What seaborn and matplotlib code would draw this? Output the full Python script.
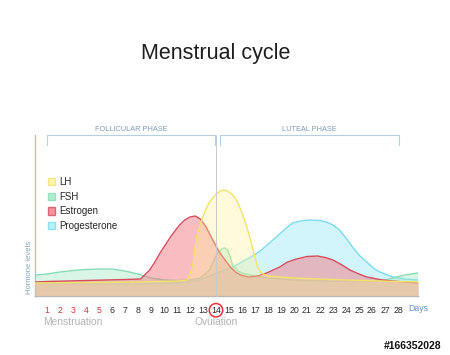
import pandas as pd
import matplotlib.pyplot as plt
import seaborn as sns
from matplotlib.patches import Patch

# Hormone curves (day of cycle -> level, arbitrary units)
lh_days = [0.08, 1, 4, 8, 11, 11.5, 11.8, 12.2, 12.5, 12.9, 13.2, 13.5, 14, 14.5, 14.9, 15.3, 15.7, 16, 16.3,
           16.6, 17, 17.2, 17.5, 18, 20, 24, 28, 29.54]
lh_level = [13, 13, 13.5, 14, 15, 15.5, 16, 29, 59, 76, 86, 94, 102, 106, 105, 101, 93, 83, 72,
            59, 39, 29, 23, 20, 18, 16, 14.5, 14]

fsh_days = [0.08, 1, 2, 3, 4, 5, 6, 7, 8, 9, 10, 11, 12, 12.8, 13.5, 14, 14.2, 14.5, 14.7, 14.9, 15.1, 15.3,
            15.7, 16, 17, 18, 20, 22, 24, 26, 27, 27.6, 28.5, 29.54]
fsh_level = [21, 22, 24, 25.5, 26.5, 27, 27, 25, 22, 18, 16, 15.5, 16, 18, 26, 40, 44, 47.5, 48, 46, 39, 30,
             25, 23, 20, 18, 16, 15, 15, 15, 16, 18, 21, 23]

estrogen_days = [0.08, 1, 4, 7, 8.2, 8.9, 9.3, 9.7, 10.1, 10.5, 10.9, 11.2, 11.6, 12, 12.4, 12.8, 13.2, 13.6,
                 14, 14.3, 14.7, 15.1, 15.5, 15.9, 16.5, 17.2, 17.9, 18.9, 19.5, 20.2, 21, 21.8, 22.4, 23,
                 23.7, 24.3, 25, 25.6, 26.8, 28, 29.54]
estrogen_level = [14, 14.5, 15.5, 16.5, 17, 26, 34, 43, 51, 59, 66, 71, 76, 79, 80, 77, 70, 60,
                  50, 43, 36, 29, 24, 21, 19, 20, 23, 29, 34, 37, 39.5, 40, 38.5, 36,
                  31, 26, 22, 19, 16, 14.5, 13]

prog_days = [0.08, 4, 8, 11, 12, 12.8, 13.5, 14.3, 15.3, 16, 16.7, 17.4, 18.2, 18.9, 19.5, 19.9, 20.5, 21.2,
             22, 22.5, 23, 23.5, 24, 24.5, 25, 25.6, 26.1, 26.6, 27.6, 28.5, 29.54]
prog_level = [12, 12, 12, 13, 14.5, 16, 20, 24, 29, 34, 39, 45, 54, 62, 69, 73, 75, 76,
              75.5, 74, 71, 66, 58, 49, 41, 34, 28, 24, 19, 17, 16]

hormones = ["LH", "FSH", "Estrogen", "Progesterone"]
fill_colors = {"LH": "#fff39a", "FSH": "#9ee8c2", "Estrogen": "#f47a85", "Progesterone": "#a6ecfa"}
edge_colors = {"LH": "#f3e36a", "FSH": "#86dcb5", "Estrogen": "#d84c5c", "Progesterone": "#79dcef"}

days = list(range(1, 29))
red_days = [1, 2, 3, 4, 5]
phases = ["FOLLICULAR PHASE", "LUTEAL PHASE"]
phase_start = [1, 14]
phase_end = [14, 28]

series = {
    "LH": (lh_days, lh_level),
    "FSH": (fsh_days, fsh_level),
    "Estrogen": (estrogen_days, estrogen_level),
    "Progesterone": (prog_days, prog_level),
}
df = pd.concat([pd.DataFrame({"day": d, "level": v, "hormone": h}) for h, (d, v) in series.items()])

sns.set_theme(style="white")
plt.rcParams["font.family"] = ["Liberation Sans", "DejaVu Sans"]

fig = plt.figure(figsize=(4.5, 3.55), dpi=100)
ax = fig.add_axes([35 / 450, 59 / 355, 383 / 450, 161 / 355])

# fills, back to front
order = ["Progesterone", "FSH", "Estrogen", "LH"]
alphas = {"Progesterone": 0.5, "FSH": 0.4, "Estrogen": 0.5, "LH": 0.35}
for i, h in enumerate(order):
    sub = df[df.hormone == h]
    ax.fill_between(sub.day, 0, sub.level, color=fill_colors[h], alpha=alphas[h], lw=0, zorder=2 + i)
    sns.lineplot(data=sub, x="day", y="level", color=edge_colors[h], lw=1.0, estimator=None,
                 sort=False, ax=ax, zorder=2 + i)

ax.set_xlim(0.08, 29.54)
ax.set_ylim(0, 161)

# axes look
for s in ["top", "right"]:
    ax.spines[s].set_visible(False)
ax.spines["left"].set_color("#a9c3d8")
ax.spines["bottom"].set_color("#9fb2c4")
ax.spines["left"].set_linewidth(1.0)
ax.spines["bottom"].set_linewidth(1.0)
ax.set_yticks([])
ax.set_xticks(days)
ax.set_xticklabels([str(d) for d in days])
ax.tick_params(axis="x", length=2, width=0.6, color="#9fb2c4", pad=5, labelsize=6.3)
for lab, d in zip(ax.get_xticklabels(), days):
    lab.set_color("#e2323d" if d in red_days else "#2b2b2b")
    if d == 14:
        lab.set_bbox(dict(boxstyle="circle,pad=0.2", fc="white", ec="#e2323d", lw=1.1))
ax.set_xlabel("")
ax.set_ylabel("Hormone levels", fontsize=5.5, color="#7fa3c4", labelpad=1)
ax.yaxis.set_label_coords(-0.005, 0.175)

trans = ax.get_xaxis_transform()
ax.text(29.54, -0.075, "Days", transform=trans, ha="center", va="center", fontsize=6.3, color="#5f93c6")
ax.text(3, -0.16, "Menstruation", transform=trans, ha="center", va="center", fontsize=7.4, color="#b3b3b3")
ax.text(14, -0.16, "Ovulation", transform=trans, ha="center", va="center", fontsize=7.4, color="#b3b3b3")

# phase brackets
bracket = "#b7cfe2"
ax.plot([14, 14], [0, 1.0], transform=trans, color="#c9c9c9", lw=0.7, zorder=10, clip_on=False)
for name, a, b in zip(phases, phase_start, phase_end):
    x0 = a + (0.3 if a == 14 else 0)
    x1 = b + (0.1 if b == 28 else -0.1)
    ax.plot([x0, x0, x1, x1], [0.94, 1.0, 1.0, 0.94], transform=trans, color=bracket, lw=0.8, clip_on=False)
    ax.text((x0 + x1) / 2, 1.035, name, transform=trans, ha="center", va="center", fontsize=5.3, color="#7d9cb8")

# legend
handles = [Patch(facecolor=fill_colors[h], edgecolor=edge_colors[h], alpha=0.8, label=h) for h in hormones]
fig.legend(handles=handles, loc="upper left", bbox_to_anchor=(48 / 450, 1 - 177 / 355), frameon=False,
           fontsize=7, handlelength=0.75, handleheight=0.75, handletextpad=0.4, labelspacing=0.48,
           borderpad=0, borderaxespad=0)

fig.text(216 / 450, 1 - 53 / 355, "Menstrual cycle", ha="center", va="center", fontsize=15.5, color="#1e1e1e")
fig.text(413 / 450, 1 - 346 / 355, "#166352028", ha="center", va="center", fontsize=7.5, fontweight="bold", color="#111111")

fig.savefig("out.png", dpi=100)
